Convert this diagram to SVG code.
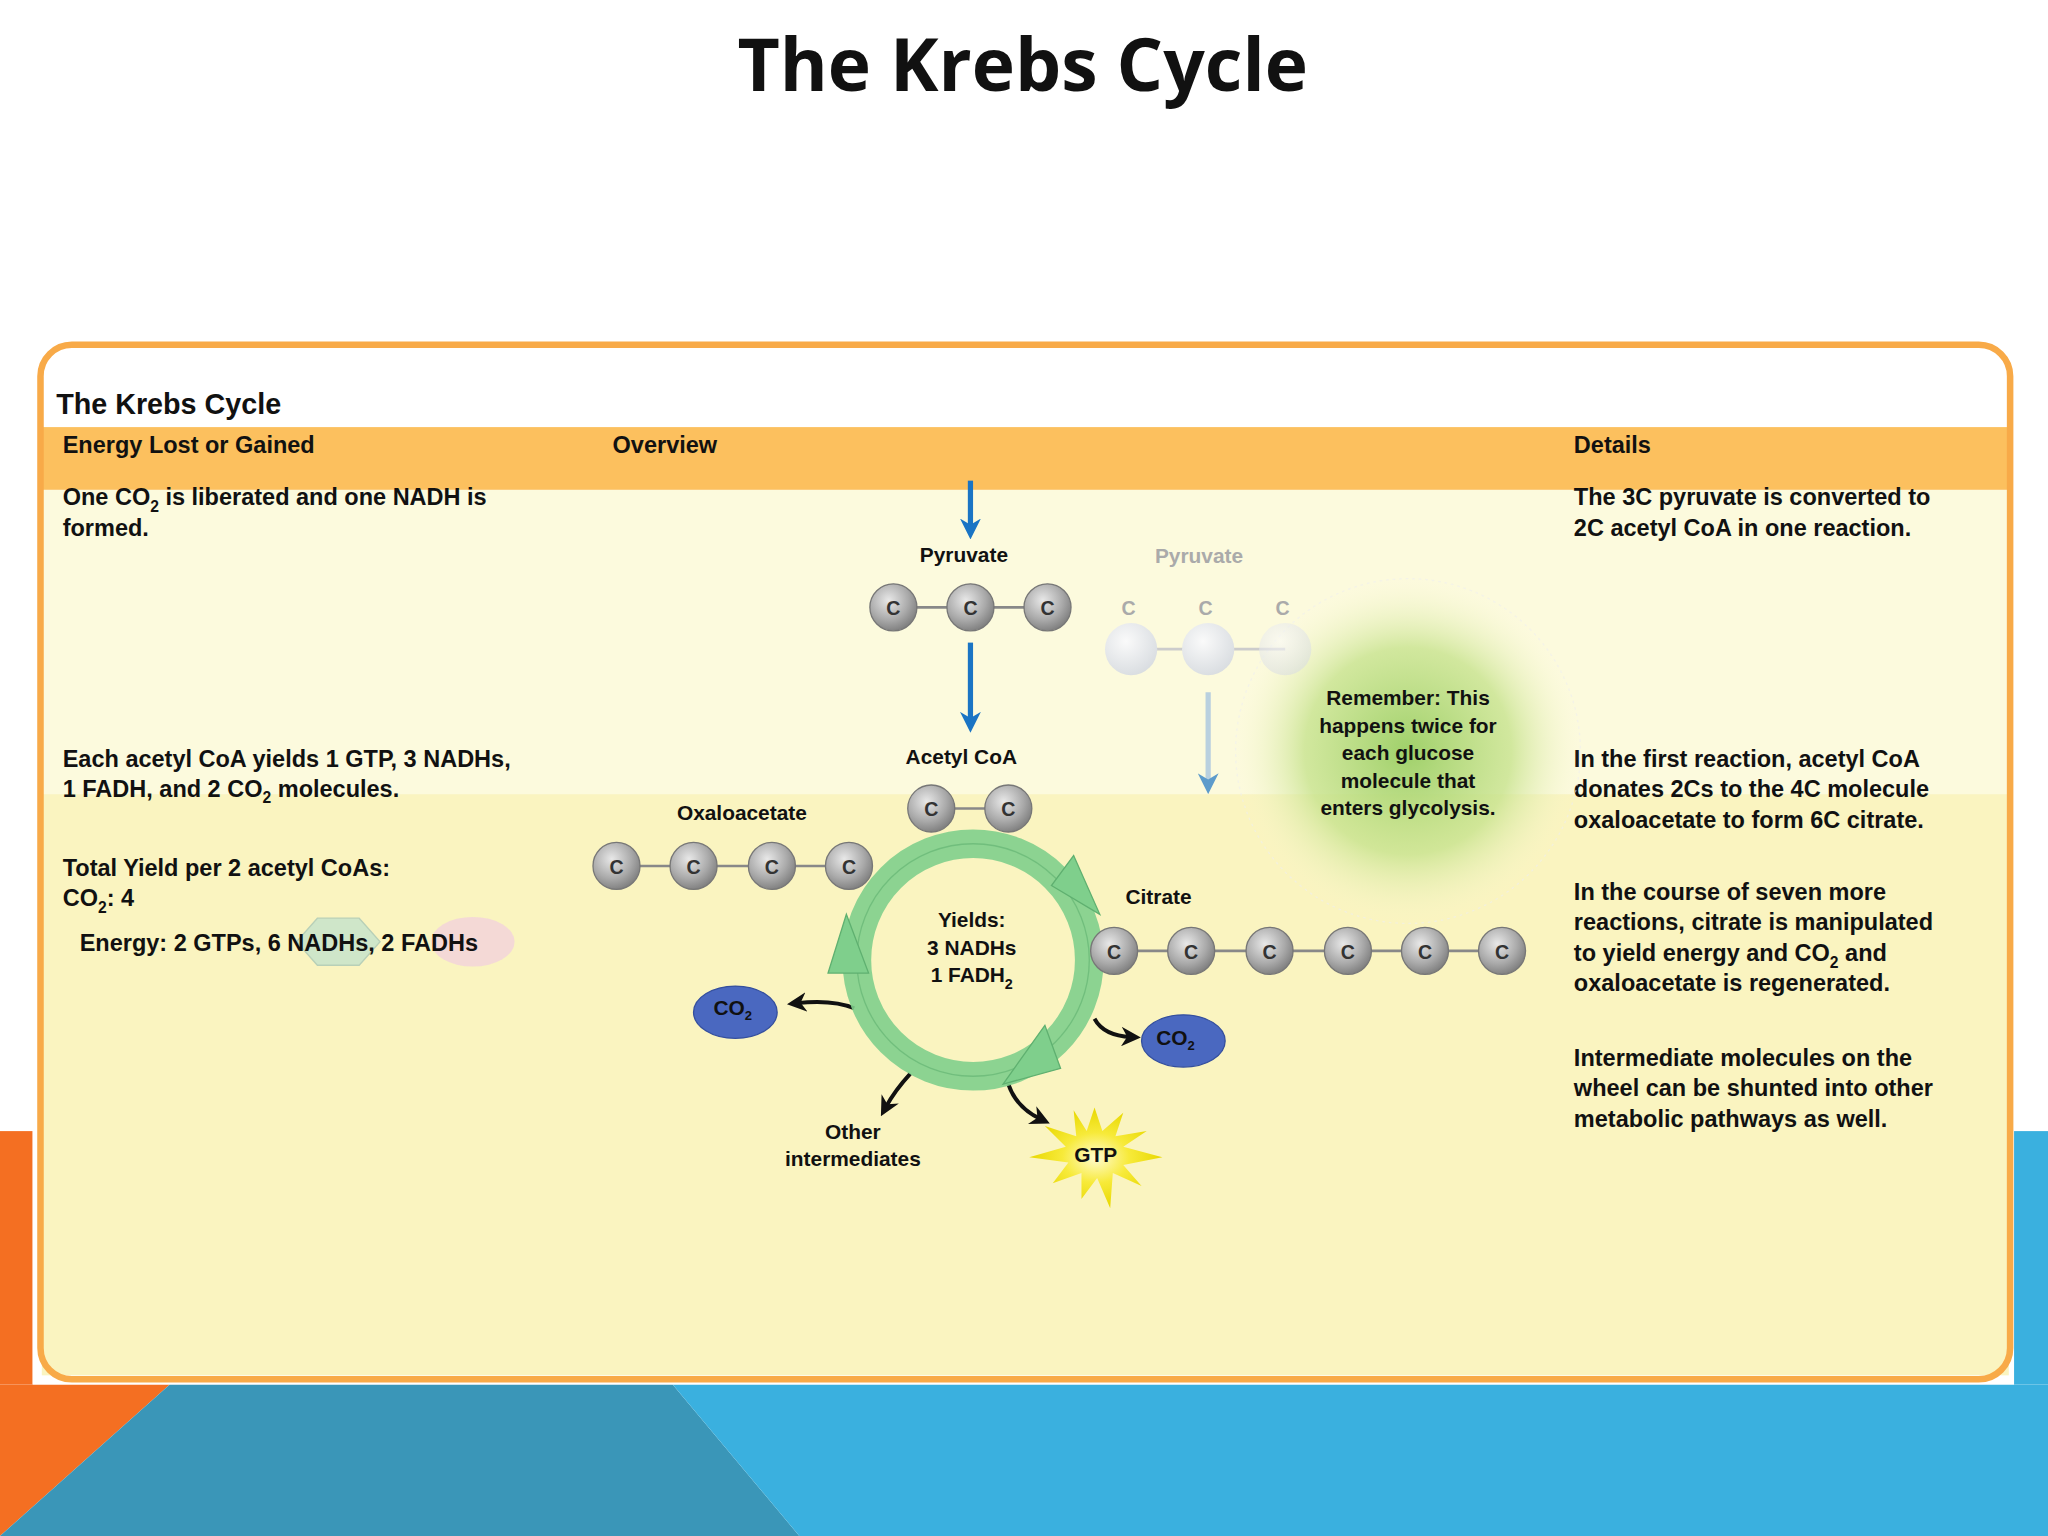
<svg xmlns="http://www.w3.org/2000/svg" width="2048" height="1536" viewBox="0 0 2048 1536">
<defs>
<style>
text{font-family:"Liberation Sans",Arial,sans-serif;font-weight:bold;fill:#111}
.t{font-size:18px}
.c{font-size:15px;text-anchor:middle;fill:#333}
.lbl{font-size:16px;text-anchor:middle}
.ball{fill:url(#gb);stroke:#777;stroke-width:1}
.bond{stroke:#888;stroke-width:2}
</style>
<radialGradient id="gb" cx="0.4" cy="0.35" r="0.7"><stop offset="0" stop-color="#e8e8e8"/><stop offset="0.6" stop-color="#aaa"/><stop offset="1" stop-color="#7a7a7a"/></radialGradient>
<radialGradient id="gp" cx="0.4" cy="0.35" r="0.7"><stop offset="0" stop-color="#fafafa"/><stop offset="1" stop-color="#d8dce0"/></radialGradient>
<radialGradient id="gg" cx="0.5" cy="0.5" r="0.5"><stop offset="0" stop-color="#9fd06a"/><stop offset="0.6" stop-color="#c7e38e" stop-opacity="0.8"/><stop offset="1" stop-color="#f6f6d0" stop-opacity="0"/></radialGradient>
<radialGradient id="gs" cx="0.5" cy="0.5" r="0.5"><stop offset="0" stop-color="#fffbd0"/><stop offset="0.5" stop-color="#f7ea3a"/><stop offset="1" stop-color="#e8d800"/></radialGradient>
<marker id="ab" viewBox="0 0 10 10" refX="5" refY="5" markerWidth="4" markerHeight="4" orient="auto"><path d="M0,0L10,5L0,10L3,5z" fill="#1a74c4"/></marker>
<marker id="ak" viewBox="0 0 10 10" refX="5" refY="5" markerWidth="5" markerHeight="5" orient="auto"><path d="M0,0L10,5L0,10L3,5z" fill="#111"/></marker>
</defs>
<rect width="2048" height="1536" fill="#fff"/>
<g transform="scale(1.30612)">
<g id="background">
<rect x="0" y="866" width="25" height="194" fill="#f46f22"/>
<rect x="1542" y="866" width="26" height="194" fill="#3ab0df"/>
<polygon points="0,1060 130,1060 0,1176" fill="#f46f22"/>
<polygon points="130,1060 515,1060 612,1176 0,1176" fill="#3a96b8"/>
<polygon points="515,1060 1568,1060 1568,1176 612,1176" fill="#3ab0df"/>
</g>
<text x="783" y="70" style="font-family:'Open Sans',sans-serif;font-size:56px;text-anchor:middle" fill="#000">The Krebs Cycle</text>
<g id="panel">
<rect x="25" y="255" width="1517" height="805" fill="#fff"/>
<rect x="32" y="375" width="1506" height="233" fill="#fcfadd"/>
<rect x="32" y="608" width="1506" height="445" fill="#faf4c0"/>
<rect x="32" y="327" width="1506" height="48" fill="#fcc05e"/>
<rect x="31" y="264" width="1508" height="792" rx="24" fill="none" stroke="#f8aa48" stroke-width="5"/>
<text x="43" y="317" style="font-size:22px">The Krebs Cycle</text>
<text x="48" y="347" class="t">Energy Lost or Gained</text>
<text x="469" y="347" class="t">Overview</text>
<text x="1205" y="347" class="t">Details</text>
</g>
<g id="left-text" class="t">
<text x="48" y="387" class="t">One CO<tspan dy="5" font-size="12">2</tspan><tspan dy="-5"> is liberated and one NADH is</tspan></text>
<text x="48" y="410" class="t">formed.</text>
<text x="48" y="587" class="t">Each acetyl CoA yields 1 GTP, 3 NADHs,</text>
<text x="48" y="610" class="t">1 FADH, and 2 CO<tspan dy="5" font-size="12">2</tspan><tspan dy="-5"> molecules.</tspan></text>
<text x="48" y="671" class="t">Total Yield per 2 acetyl CoAs:</text>
<text x="48" y="694" class="t">CO<tspan dy="5" font-size="12">2</tspan><tspan dy="-5">: 4</tspan></text>
<polygon points="243,703 275,703 291,721 275,739 243,739 227,721" fill="#cfe6c9" stroke="#b8d0b8" stroke-width="1"/>
<ellipse cx="362" cy="721" rx="32" ry="19" fill="#f3d6d8" opacity="0.9"/>
<text x="61" y="728" class="t">Energy: 2 GTPs, 6 NADHs, 2 FADHs</text>
</g>
<g id="right-text">
<text x="1205" y="387" class="t">The 3C pyruvate is converted to</text>
<text x="1205" y="410" class="t">2C acetyl CoA in one reaction.</text>
<text x="1205" y="587" class="t">In the first reaction, acetyl CoA</text>
<text x="1205" y="610" class="t">donates 2Cs to the 4C molecule</text>
<text x="1205" y="634" class="t">oxaloacetate to form 6C citrate.</text>
<text x="1205" y="689" class="t">In the course of seven more</text>
<text x="1205" y="712" class="t">reactions, citrate is manipulated</text>
<text x="1205" y="736" class="t">to yield energy and CO<tspan dy="5" font-size="12">2</tspan><tspan dy="-5"> and</tspan></text>
<text x="1205" y="759" class="t">oxaloacetate is regenerated.</text>
<text x="1205" y="816" class="t">Intermediate molecules on the</text>
<text x="1205" y="839" class="t">wheel can be shunted into other</text>
<text x="1205" y="863" class="t">metabolic pathways as well.</text>
</g>
<g id="remember">
<circle cx="1078" cy="575" r="132" fill="url(#gg)"/>
<circle cx="1078" cy="575" r="132" fill="none" stroke="#eee" stroke-dasharray="2 3" opacity="0.6"/>
<text x="1078" y="540" class="lbl">Remember: This</text>
<text x="1078" y="561" class="lbl">happens twice for</text>
<text x="1078" y="582" class="lbl">each glucose</text>
<text x="1078" y="603" class="lbl">molecule that</text>
<text x="1078" y="624" class="lbl">enters glycolysis.</text>
</g>
<g id="connectors">
<line x1="743" y1="368" x2="743" y2="405" stroke="#1a74c4" stroke-width="4" marker-end="url(#ab)"/>
<line x1="743" y1="492" x2="743" y2="553" stroke="#1a74c4" stroke-width="4" marker-end="url(#ab)"/>
<line x1="925" y1="530" x2="925" y2="600" stroke="#9ebfe0" stroke-width="4" marker-end="url(#ab)" opacity="0.7"/>
<path d="M654,772 Q638,765 610,768" fill="none" stroke="#111" stroke-width="3" marker-end="url(#ak)"/>
<path d="M838,780 Q845,793 866,794" fill="none" stroke="#111" stroke-width="3" marker-end="url(#ak)"/>
<path d="M697,822 Q685,835 678,848" fill="none" stroke="#111" stroke-width="3" marker-end="url(#ak)"/>
<path d="M772,830 Q778,848 797,857" fill="none" stroke="#111" stroke-width="3" marker-end="url(#ak)"/>
</g>
<g id="pyruvate">
<text x="738" y="430" class="lbl">Pyruvate</text>
<line x1="684" y1="465" x2="802" y2="465" class="bond"/>
<circle cx="684" cy="465" r="18" class="ball"/><circle cx="743" cy="465" r="18" class="ball"/><circle cx="802" cy="465" r="18" class="ball"/>
<text x="684" y="471" class="c">C</text><text x="743" y="471" class="c">C</text><text x="802" y="471" class="c">C</text>
</g>
<g id="pyruvate-faded">
<text x="918" y="431" class="lbl" style="fill:#aaa">Pyruvate</text>
<line x1="866" y1="497" x2="984" y2="497" stroke="#ccc" stroke-width="2"/>
<circle cx="866" cy="497" r="20" fill="url(#gp)"/><circle cx="925" cy="497" r="20" fill="url(#gp)"/><circle cx="984" cy="497" r="20" fill="url(#gp)" opacity="0.6"/>
<text x="864" y="471" class="c" style="fill:#aaa">C</text><text x="923" y="471" class="c" style="fill:#aaa">C</text><text x="982" y="471" class="c" style="fill:#aaa">C</text>
</g>
<g id="cycle">
<circle cx="745" cy="735" r="89" fill="none" stroke="#7fcf8c" stroke-width="22" opacity="0.9"/>
<circle cx="745" cy="735" r="89" fill="none" stroke="#5fb070" stroke-width="1" opacity="0.6"/>
<polygon points="805,678 842,700 822,655" fill="#7fcf8c" stroke="#5fb070"/>
<polygon points="634,745 648,700 665,745" fill="#7fcf8c" stroke="#5fb070"/>
<polygon points="800,785 768,830 812,818" fill="#7fcf8c" stroke="#5fb070"/>
<text x="744" y="710" class="lbl">Yields:</text>
<text x="744" y="731" class="lbl">3 NADHs</text>
<text x="744" y="752" class="lbl">1 FADH<tspan dy="5" font-size="11">2</tspan></text>
</g>
<g id="acetylcoa">
<text x="736" y="585" class="lbl">Acetyl CoA</text>
<line x1="713" y1="619" x2="772" y2="619" class="bond"/>
<circle cx="713" cy="619" r="18" class="ball"/><circle cx="772" cy="619" r="18" class="ball"/>
<text x="713" y="625" class="c">C</text><text x="772" y="625" class="c">C</text>
</g>
<g id="oxaloacetate">
<text x="568" y="628" class="lbl">Oxaloacetate</text>
<line x1="472" y1="663" x2="650" y2="663" class="bond"/>
<circle cx="472" cy="663" r="18" class="ball"/><circle cx="531" cy="663" r="18" class="ball"/><circle cx="591" cy="663" r="18" class="ball"/><circle cx="650" cy="663" r="18" class="ball"/>
<text x="472" y="669" class="c">C</text><text x="531" y="669" class="c">C</text><text x="591" y="669" class="c">C</text><text x="650" y="669" class="c">C</text>
</g>
<g id="citrate">
<text x="887" y="692" class="lbl">Citrate</text>
<line x1="853" y1="728" x2="1150" y2="728" class="bond"/>
<circle cx="853" cy="728" r="18" class="ball"/><circle cx="912" cy="728" r="18" class="ball"/><circle cx="972" cy="728" r="18" class="ball"/><circle cx="1032" cy="728" r="18" class="ball"/><circle cx="1091" cy="728" r="18" class="ball"/><circle cx="1150" cy="728" r="18" class="ball"/>
<text x="853" y="734" class="c">C</text><text x="912" y="734" class="c">C</text><text x="972" y="734" class="c">C</text><text x="1032" y="734" class="c">C</text><text x="1091" y="734" class="c">C</text><text x="1150" y="734" class="c">C</text>
</g>
<g id="co2-left">
<ellipse cx="563" cy="775" rx="32" ry="20" fill="#4a68c0" stroke="#344f9e"/>
<text x="561" y="777" class="lbl">CO<tspan dy="4" font-size="10">2</tspan></text>
</g>
<g id="co2-right">
<ellipse cx="906" cy="797" rx="32" ry="20" fill="#4a68c0" stroke="#344f9e"/>
<text x="900" y="800" class="lbl">CO<tspan dy="4" font-size="10">2</tspan></text>
</g>
<g id="other">
<text x="653" y="872" class="lbl">Other</text>
<text x="653" y="893" class="lbl">intermediates</text>
</g>
<g id="gtp">
<polygon points="838,848 844,866 860,852 854,870 878,866 860,878 890,886 860,892 874,908 852,898 850,925 840,902 828,918 828,898 806,906 818,890 788,886 816,878 800,862 824,870 822,850 832,866" fill="url(#gs)"/>
<text x="839" y="890" class="lbl">GTP</text>
</g>
</g>
</svg>
